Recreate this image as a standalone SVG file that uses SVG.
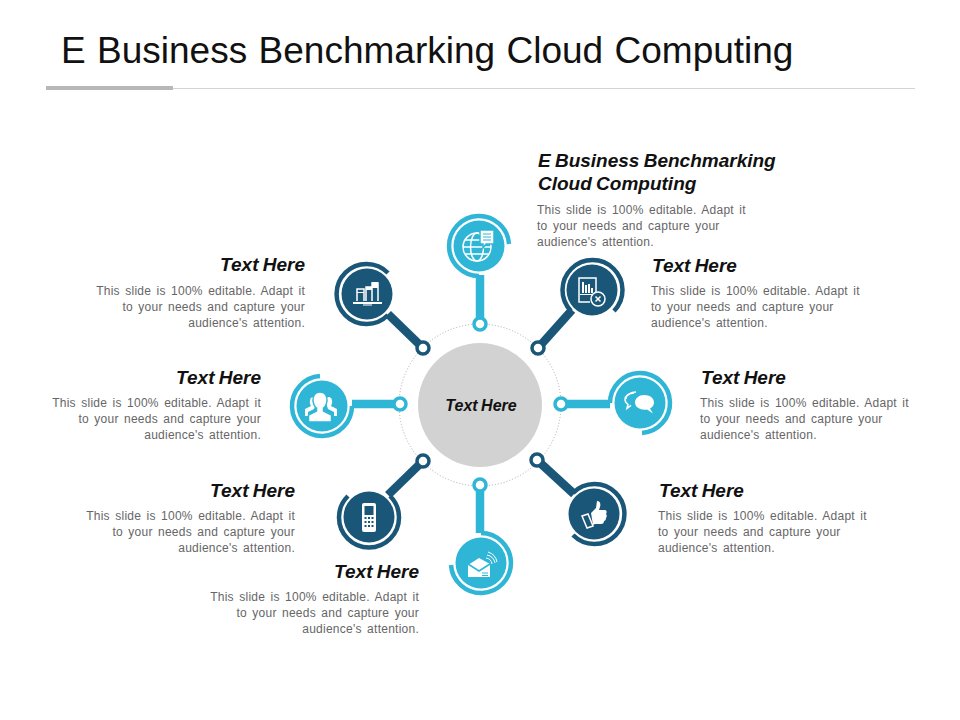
<svg xmlns="http://www.w3.org/2000/svg" width="960" height="720" viewBox="0 0 960 720">
<style>
.t{font-family:"Liberation Sans",Arial,sans-serif}
.h{font-family:"Liberation Sans",Arial,sans-serif;font-weight:bold;font-style:italic;font-size:19px;fill:#111;word-spacing:-1px}
.b{font-family:"Liberation Sans",Arial,sans-serif;font-size:12px;fill:#666;letter-spacing:.25px;word-spacing:1.8px}
.e{text-anchor:end}
.ct{fill:none;stroke-width:8.500}
.dot{fill:#fff;stroke-width:3.500}
.tl{stroke:#2fb6d6}.nv{stroke:#1a5678}
.dt{fill:#2fb6d6}.dn{fill:#1a5678}
.r{fill:none;stroke-width:4.500}
.i{fill:#fff;stroke:none}
.o{fill:none;stroke:#fff;stroke-width:1.500}
</style>
<rect width="960" height="720" fill="#fff"/>
<g id="header">
<text class="t" x="61" y="63" font-size="37" fill="#111" word-spacing="1.100">E Business Benchmarking Cloud Computing</text>
<rect x="46" y="88" width="869" height="1" fill="#d4d4d4"/>
<rect x="46" y="86" width="127" height="4" fill="#b8b8b8"/>
</g>
<g id="hub">
<circle cx="480" cy="405" r="81" fill="none" stroke="#aaa" stroke-width="1" stroke-dasharray="1 2"/>
<circle cx="480" cy="405" r="62" fill="#d2d2d2"/>
<text class="h" x="481" y="410.500" text-anchor="middle" style="font-size:16px">Text Here</text>
</g>
<g id="connectors">
<path class="ct tl" d="M480 275V324"/><circle class="dot tl" cx="480" cy="324" r="6"/>
<path class="ct nv" d="M572 310L538 348"/><circle class="dot nv" cx="538" cy="348" r="6"/>
<path class="ct tl" d="M610 404H561"/><circle class="dot tl" cx="561" cy="404" r="6"/>
<path class="ct nv" d="M574 494L537 460"/><circle class="dot nv" cx="537" cy="460" r="6"/>
<path class="ct tl" d="M480 533V485"/><circle class="dot tl" cx="480" cy="485" r="6"/>
<path class="ct nv" d="M388 495L423 461"/><circle class="dot nv" cx="423" cy="461" r="6"/>
<path class="ct tl" d="M352 404H400"/><circle class="dot tl" cx="400" cy="404" r="6"/>
<path class="ct nv" d="M388 314L423 348"/><circle class="dot nv" cx="423" cy="348" r="6"/>
</g>
<g id="node-top">
<circle class="dt" cx="479" cy="246" r="25.500"/>
<path class="r tl" d="M509 244A30 30 0 1 0 479 276"/>
<g class="o"><circle cx="477" cy="247" r="14"/><ellipse cx="477" cy="247" rx="6.500" ry="14"/><path d="M463 247H491M465 240H489M465 254H489"/></g>
<path class="i" d="M480 230h14v14h-8l-3 4v-4h-3z" style="stroke:#2fb6d6;stroke-width:1.500"/><path d="M483 234h8M483 237h8M483 240h8" stroke="#2fb6d6" stroke-width="1"/>
<text class="h" x="538" y="167">E Business Benchmarking</text>
<text class="h" x="538" y="190">Cloud Computing</text>
<text class="b" x="537" y="214">This slide is 100% editable. Adapt it</text>
<text class="b" x="537" y="230">to your needs and capture your</text>
<text class="b" x="537" y="246">audience's attention.</text>
</g>
<g id="node-top-right">
<circle class="dn" cx="592" cy="290" r="25.500"/>
<path class="r nv" d="M571 311A30 30 0 1 1 614 311"/>
<path class="o" d="M596 295V278H579V302H590"/>
<path class="i" d="M582 282h2v11h-2zM585 285h2v8h-2zM588 284h2v9h-2zM591 288h2v5h-2zM580 294h14v1h-14z"/>
<circle cx="598" cy="299" r="7" fill="#1a5678" stroke="#fff" stroke-width="1.500"/>
<path d="M595.500 296.500l5 5M600.500 296.500l-5 5" stroke="#fff" stroke-width="1.500"/>
<text class="h" x="652" y="272">Text Here</text>
<text class="b" x="651" y="295">This slide is 100% editable. Adapt it</text>
<text class="b" x="651" y="311">to your needs and capture your</text>
<text class="b" x="651" y="327">audience's attention.</text>
</g>
<g id="node-right">
<circle class="dt" cx="640" cy="403" r="25.500"/>
<path class="r tl" d="M610 403A30 30 0 1 1 642 433"/>
<path class="o" d="M634 393c-5 0-9 3-9 6.500c0 2 1 3.500 3 4.800l-1 4l4-3"/>
<path class="o" d="M626 399c0-4 5-7 10-7"/>
<path class="i" d="M644 395c6 0 10 3 10 7.500c0 3-2 5-4 6l3 5l-6-4c-6 1-12-2-12-7c0-4 4-7.500 9-7.500z"/>
<text class="h" x="701" y="384">Text Here</text>
<text class="b" x="700" y="407">This slide is 100% editable. Adapt it</text>
<text class="b" x="700" y="423">to your needs and capture your</text>
<text class="b" x="700" y="439">audience's attention.</text>
</g>
<g id="node-bottom-right">
<circle class="dn" cx="594" cy="514" r="25.500"/>
<path class="r nv" d="M573 493A30 30 0 1 1 573 535"/>
<path class="o" d="M582 516l6 -2l5 12l-6 2z"/>
<path class="i" d="M591 513l5-5l1-7c3 0 4 3 3 6l-1 3h6c2 0 2 3 1 4c1 1 1 3 0 4c0 2-1 3-2 3c0 2-1 3-3 3h-6l-2 1z"/>
<text class="h" x="659" y="497">Text Here</text>
<text class="b" x="658" y="520">This slide is 100% editable. Adapt it</text>
<text class="b" x="658" y="536">to your needs and capture your</text>
<text class="b" x="658" y="552">audience's attention.</text>
</g>
<g id="node-bottom">
<circle class="dt" cx="481" cy="563" r="25.500"/>
<path class="r tl" d="M481 533A30 30 0 1 1 451 565"/>
<path class="i" d="M468 565l11-7l11 6v13h-22z"/>
<path d="M468 564l11 7l11-7" fill="none" stroke="#2fb6d6" stroke-width="1.500"/>
<path d="M482 573h6M482 575.500h6" stroke="#2fb6d6" stroke-width="1"/>
<path class="o" style="stroke-width:1" d="M486 558a7 7 0 0 1 6 6M487 555a10 10 0 0 1 8 8M488 552a13 13 0 0 1 9 10"/>
<text class="h e" x="419" y="578">Text Here</text>
<text class="b e" x="419" y="601">This slide is 100% editable. Adapt it</text>
<text class="b e" x="419" y="617">to your needs and capture your</text>
<text class="b e" x="419" y="633">audience's attention.</text>
</g>
<g id="node-bottom-left">
<circle class="dn" cx="369" cy="517" r="25.500"/>
<path class="r nv" d="M390 496A30 30 0 1 1 348 496"/>
<rect class="i" x="362" y="503" width="14" height="29" rx="2"/>
<rect x="364.500" y="506" width="9" height="9" fill="#1a5678"/>
<path d="M364.500 518h9M364.500 522h9M364.500 526h9" stroke="#1a5678" stroke-width="2" stroke-dasharray="2 1.500"/>
<text class="h e" x="295" y="497">Text Here</text>
<text class="b e" x="295" y="520">This slide is 100% editable. Adapt it</text>
<text class="b e" x="295" y="536">to your needs and capture your</text>
<text class="b e" x="295" y="552">audience's attention.</text>
</g>
<g id="node-left">
<circle class="dt" cx="322" cy="406" r="25.500"/>
<path class="r tl" d="M352 406A30 30 0 1 1 320 376"/>
<path class="i" d="M311 398c2-2 5-1 6 2l-3 9l-6 3v4h-3v-7l6-3c-1-2-2-5 0-8zM331 398c-2-2-5-1-6 2l3 9l6 3v4h3v-7l-6-3c1-2 2-5 0-8z"/>
<path class="i" d="M320 392c5 0 7.500 4 7 9c-.5 3-2 6-3.500 7v3l8 4v7h-23v-7l8-4v-3c-1.500-1-3-4-3.500-7c-.5-5 2-9 7-9z" style="stroke:#2fb6d6;stroke-width:1.500"/>
<text class="h e" x="261" y="384">Text Here</text>
<text class="b e" x="261" y="407">This slide is 100% editable. Adapt it</text>
<text class="b e" x="261" y="423">to your needs and capture your</text>
<text class="b e" x="261" y="439">audience's attention.</text>
</g>
<g id="node-top-left">
<circle class="dn" cx="367" cy="294" r="25.500"/>
<path class="r nv" d="M388 315A30 30 0 1 1 388 273"/>
<path class="o" d="M357 301V289H364V301M366 301V287H372V301M372 301V283H378V301"/>
<path class="i" d="M372 282h6v6h-6zM366 287h6v3h-6zM357 292h7v1h-7z"/>
<path class="i" d="M353 302h29v2h-29zM363 304.500h9v1h-9z"/>
<text class="h e" x="305" y="271">Text Here</text>
<text class="b e" x="305" y="295">This slide is 100% editable. Adapt it</text>
<text class="b e" x="305" y="311">to your needs and capture your</text>
<text class="b e" x="305" y="327">audience's attention.</text>
</g>
</svg>
